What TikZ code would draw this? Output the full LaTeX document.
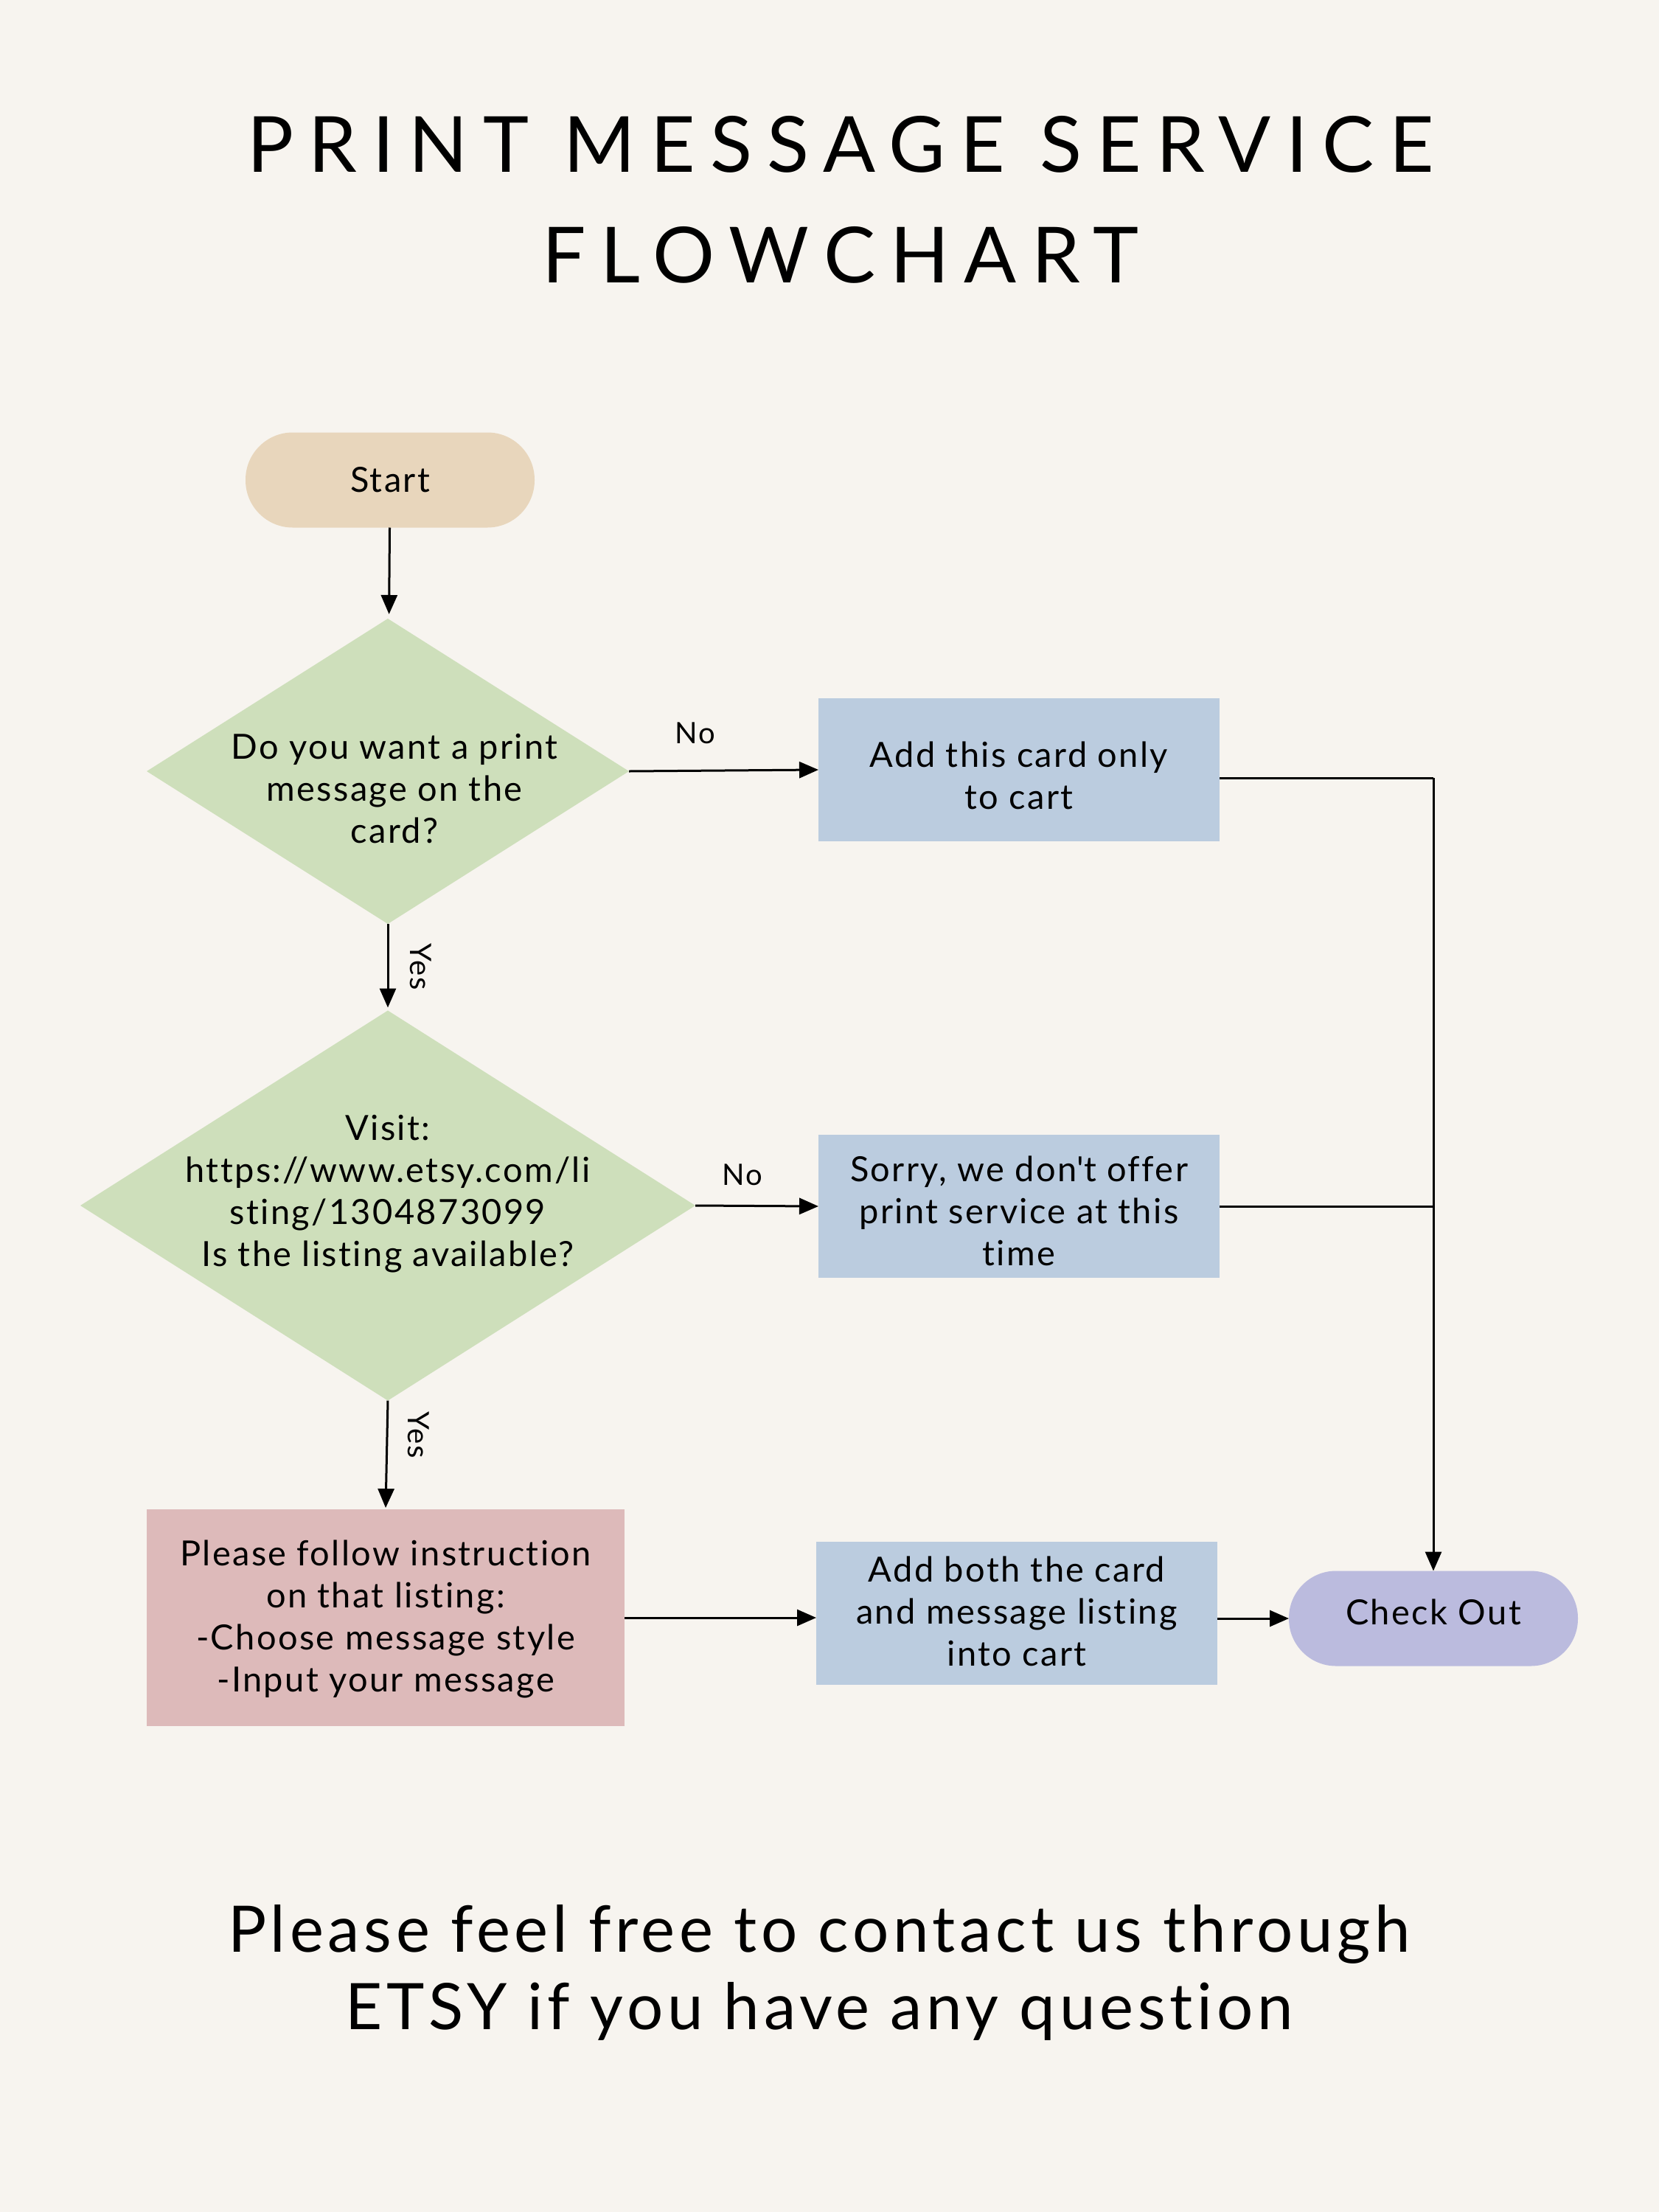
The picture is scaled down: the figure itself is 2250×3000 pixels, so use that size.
\documentclass[tikz,border=0pt]{standalone}
\usepackage{fontspec}
\setmainfont{Lato}[LetterSpace=5,Ligatures=NoCommon]
\newfontfamily\titlefont[LetterSpace=19.3,Ligatures=NoCommon]{Lato}
\newfontfamily\footfont[LetterSpace=6.6,Ligatures=NoCommon]{Lato}
\usetikzlibrary{arrows.meta,shapes.geometric}
\definecolor{bgc}{RGB}{247,244,239}
\definecolor{startc}{RGB}{232,214,188}
\definecolor{decc}{RGB}{206,223,187}
\definecolor{bluec}{RGB}{187,204,223}
\definecolor{pinkc}{RGB}{221,186,186}
\definecolor{checkc}{RGB}{187,187,222}
\begin{document}
\begin{tikzpicture}[x=1pt,y=-1pt,
  every node/.style={inner sep=0pt,outer sep=0pt},
  body/.style={font=\fontsize{47}{57}\selectfont,align=center,text=black},
  lbl/.style={font=\fontsize{40}{46}\selectfont,text=black},
  boxs/.style={rectangle,body,minimum width=544pt,minimum height=194pt},
  term/.style={rectangle,body,minimum width=392pt,minimum height=129pt,rounded corners=64pt},
  dec/.style={diamond,fill=decc},
  conn/.style={line width=3pt,draw=black},
  arrow/.style={conn,-{Triangle[width=22pt,length=26pt]}}]
\fill[bgc] (0,0) rectangle (2250,3000);
\useasboundingbox (0,0) rectangle (2250,3000);

% title
\node[anchor=base,font=\titlefont\fontsize{105}{150}\selectfont] (t1) at (1140,233) {PRINT MESSAGE SERVICE};
\node[anchor=base,font=\titlefont\fontsize{105}{150}\selectfont] (t2) at (1140,383) {FLOWCHART};

% nodes
\node[term,fill=startc] (start) at (529,651) {\raisebox{1pt}{Start}};
\node[dec,minimum width=654pt,minimum height=414pt] (d1) at (526,1046) {};
\node[body] (d1t) at (535,1070) {Do you want a print\\message on the\\card?};
\node[boxs,fill=bluec] (b1) at (1382,1044) {};
\node[body] (b1t) at (1382,1052) {Add this card only\\to cart};
\node[dec,minimum width=834pt,minimum height=529pt] (d2) at (526,1635) {};
\node[body] (d2t) at (526,1619) {Visit:\\https://www.etsy.com/li\\sting/1304873099\\Is the listing available?};
\node[boxs,fill=bluec] (b2) at (1382,1636) {};
\node[body] (b2t) at (1382,1642) {Sorry, we don\textquotesingle t offer\\print service at this\\time};
\node[rectangle,body,fill=pinkc,minimum width=648pt,minimum height=294pt] (b3) at (523,2194) {};
\node[body] (b3t) at (523,2196) {Please follow instruction\\on that listing:\\-Choose message style\\-Input your message};
\node[boxs,fill=bluec] (b4) at (1379,2188) {};
\node[body] (b4t) at (1379,2185) {Add both the card\\and message listing\\into cart};
\node[term,fill=checkc] (co) at (1944,2195) {};
\node[body] (cot) at (1944,2186) {Check Out};

% connectors
\draw[arrow,shorten >=7pt] (start) -- (d1);
\draw[arrow] (d1.east) -- (b1.west);
\draw[arrow,shorten >=4pt] (d1.south) -- (d2.north);
\draw[arrow] (d2.east) -- (b2.west);
\draw[arrow,shorten >=2pt] (d2.south) -- (b3.north);
\draw[arrow] (b3.east) -- (b3.east -| b4.west);
\draw[arrow] (co.west -| b4.east) -- (co.west);
\draw[conn] ([yshift=-11pt]b1.east) -- ([yshift=-11pt]b1.east -| co.north);
\draw[conn] (b2.east) -- (b2.east -| co.north);
\draw[arrow] ([yshift=-11pt]b1.east -| co.north) -- (co.north);

% labels
\node[lbl] (no1) at (943,994) {No};
\node[lbl] (no2) at (1007,1593) {No};
\node[lbl,rotate=-90] (yes1) at (571,1311) {Yes};
\node[lbl,rotate=-90] (yes2) at (568,1946) {Yes};

% footer
\node[anchor=base,font=\footfont\fontsize{87}{105}\selectfont] (f1) at (1111,2647) {Please feel free to contact us through};
\node[anchor=base,font=\footfont\fontsize{87}{105}\selectfont] (f2) at (1111,2752) {ETSY if you have any question};
\end{tikzpicture}
\end{document}
